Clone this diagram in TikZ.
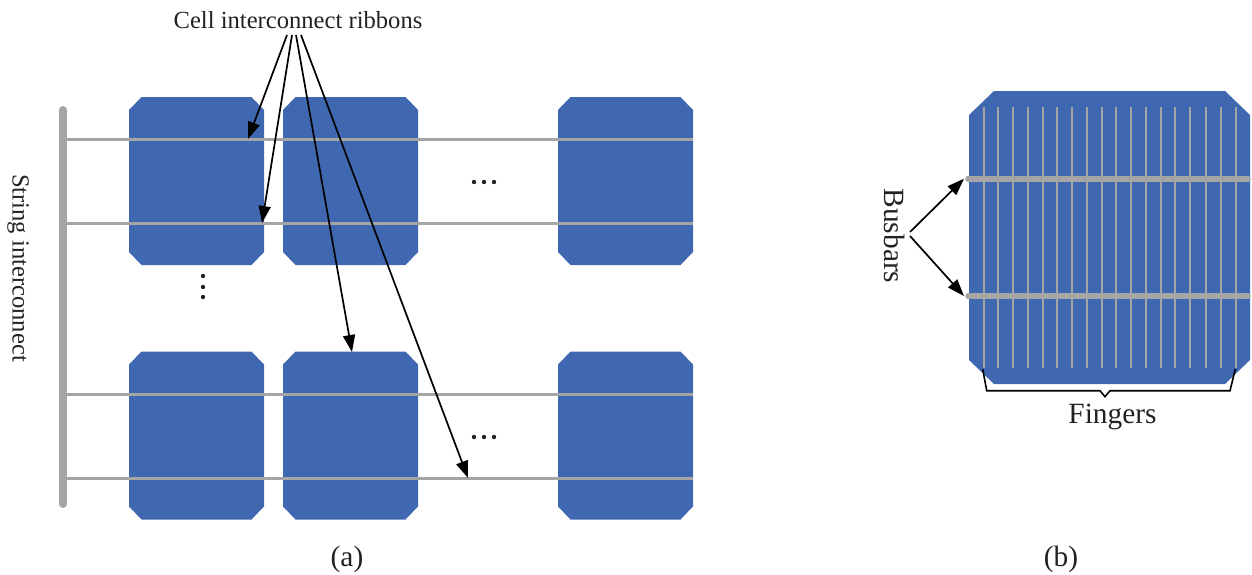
\documentclass[tikz,border=0pt]{standalone}
\usepackage{fontspec}
\setmainfont{Liberation Serif}
\usetikzlibrary{arrows.meta}
\definecolor{cellblue}{HTML}{4068B1}
\definecolor{metal}{HTML}{A5A5A5}
\definecolor{ink}{HTML}{222222}
\tikzset{
  x=0.5pt,y=-0.5pt,
  cellfill/.style={fill=cellblue,draw=none},
  ribbon/.style={draw=metal,line width=1.5pt},
  finger/.style={draw=metal,line width=1.15pt},
  busbar/.style={draw=metal,line width=2.8pt,line cap=round},
  stringbar/.style={draw=metal,line width=4pt,line cap=round},
  pointer/.style={draw=black,line width=0.85pt,-{Triangle[length=8.5pt,width=6pt]}},
  bracket/.style={draw=black,line width=0.8pt,line join=miter},
  label/.style={text=ink,font=\fontsize{12.3}{14}\selectfont,inner sep=0pt},
  biglabel/.style={text=ink,font=\fontsize{14.7}{17}\selectfont,inner sep=0pt},
  dots/.style={circle,fill=ink,inner sep=0pt,minimum size=2.2pt},
}
% \chamfcell{left}{top}{right}{bottom}{chamfer x}{chamfer y}
\newcommand{\chamfcell}[6]{%
  \path[cellfill] ({#1+#5},#2) -- ({#3-#5},#2) -- (#3,{#2+#6}) -- (#3,{#4-#6})
    -- ({#3-#5},#4) -- ({#1+#5},#4) -- (#1,{#4-#6}) -- (#1,{#2+#6}) -- cycle;}
\begin{document}
\begin{tikzpicture}
\useasboundingbox (0,0) rectangle (1252,574);
% cells of (a)
\foreach \lx/\ty in {129/97,283/97,558/97,129/351.5,283/351.5,558/351.5}
  \chamfcell{\lx}{\ty}{\lx+135}{\ty+168}{12.5}{13}
% string interconnect
\coordinate (strtop) at (63,110);
\coordinate (strbot) at (63,504);
\draw[stringbar] (strtop) -- (strbot);
% ribbons
\foreach \nm/\ry in {p/139,q/223,r/394,s/478}{
  \coordinate (\nm L) at (67,\ry);
  \coordinate (\nm R) at (693,\ry);
  \draw[ribbon] (\nm L) -- (\nm R);
}
% labels
\node[label] (ribbons) at (298,20) {Cell interconnect ribbons};
\node[label,rotate=-90] (strlabel) at (18,268) {String interconnect};
\node[biglabel] (capa) at (347,559) {(a)};
\node[biglabel] (capb) at (1061,559) {(b)};
% dots
\foreach \i/\dx/\dy in {1/474/182,2/484/182,3/494/182,4/474/437,5/484/437,6/494/437,7/203/276,8/203/287,9/203/297}
  \node[dots] (dot\i) at (\dx,\dy) {};
% pointers
\coordinate (r1) at (287,35);
\coordinate (r2) at (292,35);
\coordinate (r3) at (296,35);
\coordinate (r4) at (301,35);
\coordinate (t1) at (248,139);
\coordinate (t2) at (262,223);
\coordinate (t3) at (352,352);
\coordinate (t4) at (468,478);
\foreach \i in {1,2,3,4}
  \draw[pointer] (r\i) -- (t\i);
% panel (b)
\chamfcell{969}{91}{1250}{384}{25}{24}
\foreach \fx in {983.7,998.3,1013.3,1028,1042.7,1057.3,1072,1087,1101.7,1116.3,1131,1145.7,1160.7,1175.3,1190,1206.3,1221,1235.7}
  \draw[finger] (\fx,107) -- (\fx,368);
\coordinate (bus1L) at (968,178.7);
\coordinate (bus1R) at (1248,178.7);
\coordinate (bus2L) at (968,296);
\coordinate (bus2R) at (1248,296);
\draw[busbar] (bus1L) -- (bus1R);
\draw[busbar] (bus2L) -- (bus2R);
\node[biglabel,rotate=-90] (busl) at (895,236) {Busbars};
\coordinate (bstart1) at (910,232);
\coordinate (bstart2) at (910,236);
\coordinate (btip1) at (964,178.7);
\coordinate (btip2) at (964,296);
\draw[pointer] (bstart1) -- (btip1);
\draw[pointer] (bstart2) -- (btip2);
\node[biglabel] (fing) at (1112.5,417) {Fingers};
\coordinate (b1) at (982.7,369);
\coordinate (b2) at (986.7,390.7);
\coordinate (b3) at (1100,390.7);
\coordinate (b4) at (1105,396.7);
\coordinate (b5) at (1110,390.7);
\coordinate (b6) at (1230,390.7);
\coordinate (b7) at (1235.3,369);
\draw[bracket] (b1) -- (b2) -- (b3) -- (b4) -- (b5) -- (b6) -- (b7);
\end{tikzpicture}
\end{document}
